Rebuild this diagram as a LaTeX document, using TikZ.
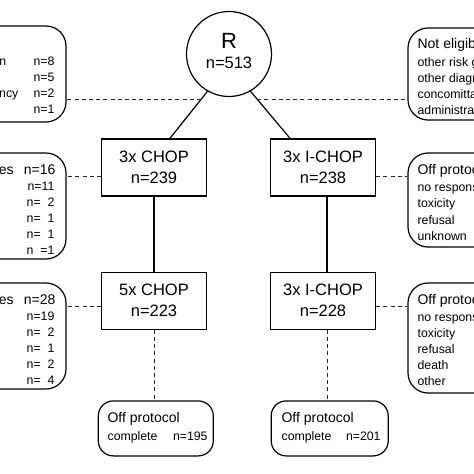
\documentclass[tikz,border=0pt]{standalone}
\usepackage{fontspec}
\setmainfont{Liberation Sans}
\usetikzlibrary{positioning}
\usetikzlibrary{calc}
\tikzset{stage/.style={rectangle,draw,line width=1.2pt,minimum width=105pt,minimum height=57pt,inner sep=0pt,align=center,font=\fontsize{16.5}{21}\selectfont},
side box/.style={rectangle,draw,line width=1.2pt,rounded corners=20pt},
end box/.style={rectangle,draw,line width=1.2pt,rounded corners=15pt},
head/.style={inner sep=0pt,text height=10pt,text depth=3pt,font=\fontsize{14}{16}\selectfont},
detail/.style={inner sep=0pt,text height=9pt,text depth=3pt,font=\fontsize{12.3}{14}\selectfont},
dashline/.style={line width=0.9pt,black!85,dash pattern=on 4pt off 3.2pt},
}

\begin{document}
\begin{tikzpicture}[x=1pt, y=-1pt, line width=1.2pt]
	\useasboundingbox (0,0) rectangle (474,474);
	\fill[white] (0,0) rectangle (474,474);
	\clip (0,0) rectangle (474,474);

	% randomisation and arms
	\node[circle, draw, minimum size=85pt, inner sep=0pt, font=\fontsize{16.5}{20}\selectfont] (R) at (229,54) {\raisebox{4pt}{\begin{tabular}{@{}c@{}}{\fontsize{22}{22}\selectfont R}\\n=513\end{tabular}}};
	\node[stage] (chop3) at (154,167.5) {3x CHOP\\n=239};
	\node[stage] (ichop3) at (323,167.5) {3x I-CHOP\\n=238};
	\node[stage, below=75pt of chop3] (chop5) {5x CHOP\\n=223};
	\node[stage, below=75pt of ichop3] (ichop3b) {3x I-CHOP\\n=228};

	% boxes at the sides
	\node[side box, minimum width=130pt, minimum height=96pt] (eligL) at (1,74) {};
	\node[side box, minimum width=130pt, minimum height=92pt] (eligR) at (473,74) {};
	\node[side box, minimum width=130pt, minimum height=106pt] (offL1) at (1,206) {};
	\node[side box, minimum width=130pt, minimum height=94pt] (offR1) at (473,200) {};
	\node[side box, minimum width=130pt, minimum height=106pt] (offL2) at (1,336) {};
	\node[side box, minimum width=130pt, minimum height=110pt] (offR2) at (473,338) {};
	\node[end box, minimum width=115pt, minimum height=55pt] (endL) at (155.8,428.4) {};
	\node[end box, minimum width=117pt, minimum height=55pt] (endR) at (329.7,428.4) {};

	% not eligible, left
	\node[detail, anchor=base east] (gL1) at (55,65.4) {n=8};
	\node[detail, below left=2.8pt and 0pt of gL1.south east] (gL2) {n=5};
	\node[detail, below left=2.8pt and 0pt of gL2.south east] (gL3) {n=2};
	\node[detail, below left=2.8pt and 0pt of gL3.south east] (gL4) {n=1};
	\node[detail, base left=26pt of gL1] (gLa) {n};
	\node[detail, base left=14pt of gL3] (gLc) {ncy};

	% not eligible, right
	\node[head, anchor=base west] (gR0) at (417,48) {Not eligible};
	\node[detail, below right=5.4pt and 0pt of gR0.south west] (gR1) {other risk group};
	\node[detail, below right=2.8pt and 0pt of gR1.south west] (gR2) {other diagnosis};
	\node[detail, below right=2.8pt and 0pt of gR2.south west] (gR3) {concomittant};
	\node[detail, below right=2.8pt and 0pt of gR3.south west] (gR4) {administrative};

	% off protocol after 3 cycles
	\node[head, anchor=base east] (oL0) at (56,174) {n=16};
	\node[head, base left=9pt of oL0] (oLa) {les};
	\node[detail, below left=3.4pt and 1pt of oL0.south east] (oL1) {n=11};
	\node[detail, below left=2.8pt and 0pt of oL1.south east] (oL2) {n=\hphantom{0}2};
	\node[detail, below left=2.8pt and 0pt of oL2.south east] (oL3) {n=\hphantom{0}1};
	\node[detail, below left=2.8pt and 0pt of oL3.south east] (oL4) {n=\hphantom{0}1};
	\node[detail, below left=2.8pt and 0pt of oL4.south east] (oL5) {n\hphantom{0}=1};

	\node[head, anchor=base west] (oR0) at (417,174) {Off protocol};
	\node[detail, below right=4.4pt and 0pt of oR0.south west] (oR1) {no response};
	\node[detail, below right=3pt and 0pt of oR1.south west] (oR2) {toxicity};
	\node[detail, below right=3pt and 0pt of oR2.south west] (oR3) {refusal};
	\node[detail, below right=3pt and 0pt of oR3.south west] (oR4) {unknown};

	% off protocol after the last cycles
	\node[head, anchor=base east] (pL0) at (56,304) {n=28};
	\node[head, base left=9pt of pL0] (pLa) {les};
	\node[detail, below left=3.4pt and 1pt of pL0.south east] (pL1) {n=19};
	\node[detail, below left=2.8pt and 0pt of pL1.south east] (pL2) {n=\hphantom{0}2};
	\node[detail, below left=2.8pt and 0pt of pL2.south east] (pL3) {n=\hphantom{0}1};
	\node[detail, below left=2.8pt and 0pt of pL3.south east] (pL4) {n=\hphantom{0}2};
	\node[detail, below left=2.8pt and 0pt of pL4.south east] (pL5) {n=\hphantom{0}4};

	\node[head, anchor=base west] (pR0) at (417,304) {Off protocol};
	\node[detail, below right=4.4pt and 0pt of pR0.south west] (pR1) {no response};
	\node[detail, below right=2.8pt and 0pt of pR1.south west] (pR2) {toxicity};
	\node[detail, below right=2.8pt and 0pt of pR2.south west] (pR3) {refusal};
	\node[detail, below right=2.8pt and 0pt of pR3.south west] (pR4) {death};
	\node[detail, below right=2.8pt and 0pt of pR4.south west] (pR5) {other};

	% completed
	\node[head, anchor=base west] (cL0) at (107,422) {Off protocol};
	\node[detail, below right=5.4pt and 0pt of cL0.south west] (cL1) {complete};
	\node[detail, base right=14.3pt of cL1] (cL2) {n=195};
	\node[head, anchor=base west] (cR0) at (281,422) {Off protocol};
	\node[detail, below right=5.4pt and 0pt of cR0.south west] (cR1) {complete};
	\node[detail, base right=13.3pt of cR1] (cR2) {n=201};

	% connectors
	\coordinate (t1) at ($(chop3.north west)!0.65!(chop3.north east)$);
	\coordinate (t2) at ($(ichop3.north west)!0.19!(ichop3.north east)$);
	\draw (R.240) -- coordinate[pos=0.17] (k1) (t1);
	\draw (R.300) -- coordinate[pos=0.17] (k2) (t2);
	\draw (chop3) -- (chop5);
	\coordinate (v1) at ($(ichop3.south)+(4,0)$);
	\draw (v1) -- (v1 |- ichop3b.north);

	\draw[dashline] (k1) -- (k1 -| eligL.east);
	\draw[dashline] (k2) -- (k2 -| eligR.west);
	\coordinate (h1) at ($(chop3.west)+(0,8.5)$);
	\draw[dashline] (h1) -- (h1 -| offL1.east);
	\coordinate (h2) at ($(ichop3.east)+(0,8.5)$);
	\draw[dashline] (h2) -- (h2 -| offR1.west);
	\coordinate (h3) at ($(chop5.west)+(0,6)$);
	\draw[dashline] (h3) -- (h3 -| offL2.east);
	\coordinate (h4) at ($(ichop3b.east)+(0,6)$);
	\draw[dashline] (h4) -- (h4 -| offR2.west);
	\draw[dashline] (chop5.south) -- (chop5.south |- endL.north);
	\coordinate (v2) at ($(ichop3b.south)+(4,0)$);
	\draw[dashline] (v2) -- (v2 |- endR.north);
\end{tikzpicture}
\end{document}
